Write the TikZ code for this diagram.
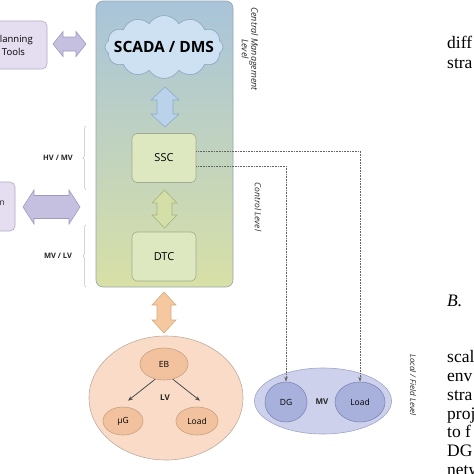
\documentclass[tikz,border=0pt]{standalone}
\usepackage{fontspec}
\setmainfont{Liberation Serif}
\newfontfamily\dsans{Open Sans}
\usetikzlibrary{shapes.symbols,shapes.geometric,arrows.meta,decorations.pathreplacing}
\definecolor{maintop}{RGB}{168,196,218}
\definecolor{mainmid}{RGB}{188,207,198}
\definecolor{mainbot}{RGB}{216,224,166}
\definecolor{mainedge}{RGB}{150,165,175}
\definecolor{cloudfill}{RGB}{205,225,242}
\definecolor{cloudedge}{RGB}{140,165,190}
\definecolor{boxfill}{RGB}{222,232,192}
\definecolor{boxedge}{RGB}{160,170,140}
\definecolor{bluearr}{RGB}{186,211,234}
\definecolor{bluearredge}{RGB}{140,172,200}
\definecolor{greenarr}{RGB}{212,223,168}
\definecolor{greenarredge}{RGB}{165,178,130}
\definecolor{orarr}{RGB}{246,200,160}
\definecolor{orarredge}{RGB}{215,170,130}
\definecolor{lvfill}{RGB}{249,219,199}
\definecolor{lvedge}{RGB}{190,172,158}
\definecolor{lvin}{RGB}{242,194,158}
\definecolor{lvinedge}{RGB}{200,160,128}
\definecolor{mvfill}{RGB}{205,209,236}
\definecolor{mvedge}{RGB}{160,165,200}
\definecolor{mvin}{RGB}{168,176,220}
\definecolor{mvinedge}{RGB}{128,136,184}
\definecolor{lavfill}{RGB}{229,222,240}
\definecolor{lavedge}{RGB}{178,170,194}
\definecolor{lavarr}{RGB}{198,192,224}
\definecolor{lavarredge}{RGB}{160,154,192}
\definecolor{connc}{RGB}{100,100,100}
\newcommand\varr[7]{%
  \path[#1] (#2,#3) -- ({#2+#6},{#3+#7}) -- ({#2+#5},{#3+#7}) -- ({#2+#5},{#4-#7}) -- ({#2+#6},{#4-#7}) -- (#2,#4) -- ({#2-#6},{#4-#7}) -- ({#2-#5},{#4-#7}) -- ({#2-#5},{#3+#7}) -- ({#2-#6},{#3+#7}) -- cycle;}
\newcommand\harr[7]{%
  \path[#1] (#3,#2) -- ({#3+#7},{#2-#6}) -- ({#3+#7},{#2-#5}) -- ({#4-#7},{#2-#5}) -- ({#4-#7},{#2-#6}) -- (#4,#2) -- ({#4-#7},{#2+#6}) -- ({#4-#7},{#2+#5}) -- ({#3+#7},{#2+#5}) -- ({#3+#7},{#2+#6}) -- cycle;}
\begin{document}
\begin{tikzpicture}[x=1pt,y=-1pt,
  lbl/.style={font=\dsans\fontsize{8.5}{10}\selectfont, text=black!85},
  boldlbl/.style={font=\dsans\bfseries\fontsize{7.5}{9}\selectfont, text=black!85},
  lvl/.style={font=\dsans\itshape\fontsize{8}{9}\selectfont, rotate=-90, align=center, text=black!85},
  ctrlbox/.style={draw=boxedge, rounded corners=5pt, fill=boxfill, line width=0.6pt, minimum width=64pt, minimum height=49pt, inner sep=0pt, font=\dsans\fontsize{11}{13}\selectfont},
  sidebox/.style={draw=lavedge, rounded corners=5pt, fill=lavfill, line width=0.6pt, inner sep=0pt},
  inell/.style={ellipse, inner sep=0pt, line width=0.6pt, font=\dsans\fontsize{8.5}{10}\selectfont},
  conn/.style={draw=connc, line width=0.7pt, dash pattern=on 1pt off 0.6pt, -{Stealth[length=5pt,width=3.5pt]}},
  treearr/.style={draw=black!70, line width=0.8pt, -{Stealth[length=5pt,width=4pt]}},
  brc/.style={draw=black!25, line width=0.5pt, decorate, decoration={brace, amplitude=3pt}},
  frag/.style={font=\fontsize{17.5}{19}\selectfont, anchor=base west, inner sep=0pt}
]
\useasboundingbox (0,0) rectangle (474,474);

% left side boxes
\node (plan) [sidebox, minimum width=67pt, minimum height=48pt, align=center, font=\dsans\fontsize{9.5}{13}\selectfont] at (13.5,45) {Planning\\Tools};
\node (info) [sidebox, minimum width=50pt, minimum height=49pt] at (-10,206.5) {};
\node [lbl, anchor=east, inner sep=0pt] at (5,203) {n};

% main control column
\node (main) [draw=mainedge, line width=0.6pt, rounded corners=7pt, minimum width=137pt, minimum height=286pt, top color=maintop, middle color=mainmid, bottom color=mainbot, inner sep=0pt] at (164.5,144) {};

\node (scada) [cloud, cloud puffs=12, cloud puff arc=115, aspect=1.9, draw=cloudedge, fill=cloudfill, line width=0.6pt, minimum width=118pt, minimum height=63pt, inner sep=0pt] at (164,47) {};
\node [font=\dsans\bfseries\fontsize{15.5}{18}\selectfont, inner sep=0pt] at (scada.center) {SCADA / DMS};

\node (ssc) [ctrlbox] at (164,158) {SSC};
\node (dtc) [ctrlbox] at (164,256.5) {DTC};

% vertical double arrows
\varr{draw=bluearredge, fill=bluearr, line width=0.6pt}{165}{87}{127}{8}{14}{13}
\varr{draw=greenarredge, fill=greenarr, line width=0.6pt}{164.5}{190}{228}{7.5}{12.5}{13}
\varr{draw=orarredge, fill=orarr, line width=0.6pt}{164}{292}{333}{7}{12}{13}

% horizontal double arrows
\harr{draw=lavarredge, fill=lavarr, line width=0.6pt}{44}{53}{86}{7}{12.5}{10}
\harr{draw=lavarredge, fill=lavarr, line width=0.6pt}{207}{23}{80}{11.5}{17}{11}

% voltage labels and braces
\node [boldlbl] at (58,158) {HV / MV};
\node [boldlbl] at (58,256) {MV / LV};
\draw [brc] (86,190) -- (86,126);
\draw [brc] (86,287) -- (86,225);

% level labels
\node [lvl, font=\dsans\itshape\fontsize{9}{9.5}\selectfont] at (250,49) {Central Management\\Level};
\node [lvl, font=\dsans\itshape\fontsize{8.5}{9}\selectfont] at (258,207) {Control Level};
\node [lvl] at (413,385) {Local / Field Level};

% LV field
\node (lv) [ellipse, draw=lvedge, fill=lvfill, line width=0.6pt, minimum width=154pt, minimum height=124pt, inner sep=0pt] at (166,398) {};
\node (eb) [inell, draw=lvinedge, fill=lvin, minimum width=48pt, minimum height=32pt] at (164,364) {EB};
\node (mug) [inell, draw=lvinedge, fill=lvin, minimum width=40pt, minimum height=28pt] at (123,421) {µG};
\node (lvload) [inell, draw=lvinedge, fill=lvin, minimum width=42pt, minimum height=28pt] at (197,421) {Load};
\node [boldlbl, font=\dsans\bfseries\fontsize{8}{9}\selectfont] at (165,398) {LV};
\draw [treearr] (eb.-120) -- ([xshift=5pt,yshift=6pt]mug.north);
\draw [treearr] (eb.-60) -- ([xshift=3pt,yshift=6pt]lvload.north);

% MV field
\node (mv) [ellipse, draw=mvedge, fill=mvfill, line width=0.6pt, minimum width=137pt, minimum height=66pt, inner sep=0pt] at (323,401) {};
\node (dg) [inell, draw=mvinedge, fill=mvin, minimum width=42pt, minimum height=40pt] at (286,402) {DG};
\node (mvload) [inell, draw=mvinedge, fill=mvin, minimum width=50pt, minimum height=40pt] at (360,402) {Load};
\node [boldlbl, font=\dsans\bfseries\fontsize{8}{9}\selectfont] at (322,402) {MV};

% dashed connectors SSC -> MV devices
\coordinate (s1) at ([yshift=7pt]ssc.east);
\coordinate (s2) at ([yshift=-8pt]ssc.east);
\draw [conn] (s1) -| (mvload.north);
\draw [conn] (s2) -| (dg.north);

% cropped page text fragments
\node [frag] at (447,48) {diff};
\node [frag] at (447,68) {stra};
\node [frag, font=\itshape\fontsize{17.5}{19}\selectfont] at (447,306) {B.};
\node [frag] at (447,362) {scal};
\node [frag] at (447,381) {env};
\node [frag] at (447,400) {stra};
\node [frag] at (447,419) {proj};
\node [frag] at (447,437) {to f};
\node [frag] at (447,456) {DG};
\node [frag] at (447,475) {netw};
\end{tikzpicture}
\end{document}
